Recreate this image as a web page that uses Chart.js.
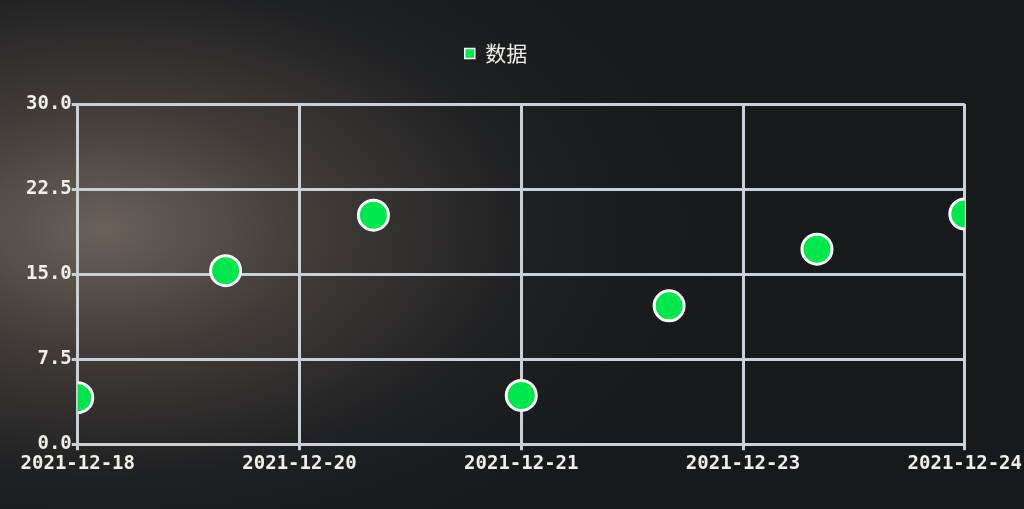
<!DOCTYPE html>
<html>
<head>
<meta charset="utf-8">
<script src="https://cdn.jsdelivr.net/npm/chart.js@4/dist/chart.umd.min.js"></script>
<style>
  html, body { margin: 0; padding: 0; }
  body {
    width: 1024px; height: 509px; overflow: hidden;
    background: radial-gradient(ellipse 60% 70% at 10% 45%, #6a615a 0%, #403b38 35%, #1f2022 70%, #17191b 100%);
  }
  canvas { display: block; }
</style>
</head>
<body>
<canvas id="chart" width="1024" height="509"></canvas>
<script>
// Data
const dates = ['2021-12-18', '2021-12-19', '2021-12-20', '2021-12-21', '2021-12-22', '2021-12-23', '2021-12-24'];
const values = [4.1, 15.3, 20.2, 4.3, 12.2, 17.2, 20.3];
const xTickLabels = ['2021-12-18', '2021-12-20', '2021-12-21', '2021-12-23', '2021-12-24'];
const yTicks = [0, 7.5, 15, 22.5, 30];

const gridColor = '#c9d0d8';
const textColor = '#f0f0ea';
const monoFont = { family: '"DejaVu Sans Mono", monospace', size: 19, weight: 'bold' };

const points = values.map((v, i) => ({ x: i, y: v }));

// leave a wider gap between the legend and the plot
const legendGap = {
  id: 'legendGap',
  beforeUpdate(chart) {
    const lg = chart.legend;
    if (lg && !lg._gapPatched) {
      const fit = lg.fit;
      lg.fit = function () { fit.call(this); this.height += 30; };
      lg._gapPatched = true;
    }
  },
};

new Chart(document.getElementById('chart').getContext('2d'), {
  type: 'scatter',
  data: {
    datasets: [{
      label: '数据',
      data: points,
      backgroundColor: '#00e64d',
      borderColor: '#ffffff',
      borderWidth: 3,
      pointRadius: 15,
      pointHoverRadius: 15,
      clip: 0,
    }],
  },
  plugins: [legendGap],
  options: {
    responsive: false,
    animation: false,
    layout: { padding: { top: 18, left: 26, right: 58, bottom: 32 } },
    plugins: {
      tooltip: { enabled: false },
      legend: {
        display: true,
        position: 'top',
        labels: {
          color: textColor,
          boxWidth: 10,
          boxHeight: 10,
          padding: 25,
          font: { family: '"Noto Sans CJK SC", sans-serif', size: 21 },
          generateLabels: (chart) => {
            const items = Chart.defaults.plugins.legend.labels.generateLabels(chart);
            items.forEach((it) => { it.lineWidth = 1.5; });
            return items;
          },
        },
      },
    },
    scales: {
      x: {
        type: 'linear',
        min: 0,
        max: dates.length - 1,
        afterBuildTicks: (axis) => {
          axis.ticks = xTickLabels.map((_, i) => ({ value: i * (dates.length - 1) / (xTickLabels.length - 1) }));
        },
        ticks: {
          color: textColor,
          font: monoFont,
          maxRotation: 0,
          autoSkip: false,
          padding: 2,
          callback: (value, index) => xTickLabels[index],
        },
        grid: { color: gridColor, lineWidth: 3, tickLength: 6 },
        border: { color: gridColor, width: 3 },
      },
      y: {
        min: 0,
        max: 30,
        afterBuildTicks: (axis) => {
          axis.ticks = yTicks.map((v) => ({ value: v }));
        },
        ticks: {
          color: textColor,
          font: monoFont,
          padding: 0,
          callback: (value) => Number(value).toFixed(1),
        },
        grid: { color: gridColor, lineWidth: 3, tickLength: 6 },
        border: { color: gridColor, width: 3 },
      },
    },
  },
});
</script>
</body>
</html>
